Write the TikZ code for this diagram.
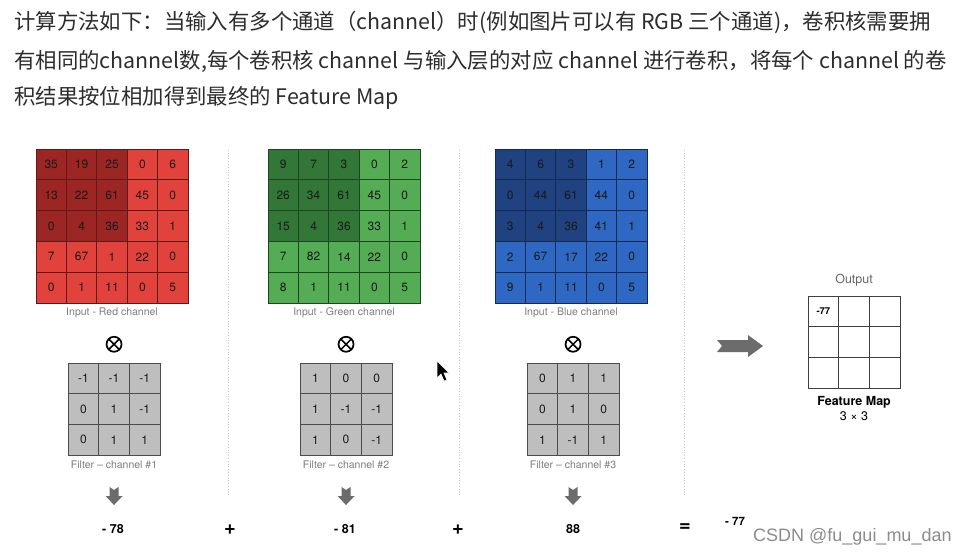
\documentclass[tikz,border=0pt]{standalone}
\usepackage{fontspec}
\setmainfont{TeX Gyre Heros}
\newfontfamily\cjk{Noto Sans CJK SC}
\newfontfamily\wmfont{Liberation Sans}
\usetikzlibrary{positioning}

\definecolor{redL}{RGB}{226,66,60}
\definecolor{redD}{RGB}{155,38,36}
\definecolor{redG}{RGB}{95,25,25}
\definecolor{greenL}{RGB}{84,172,84}
\definecolor{greenD}{RGB}{50,118,56}
\definecolor{greenG}{RGB}{30,70,35}
\definecolor{blueL}{RGB}{46,104,194}
\definecolor{blueD}{RGB}{32,66,128}
\definecolor{blueG}{RGB}{20,40,80}
\definecolor{filterGray}{RGB}{190,190,190}
\definecolor{arrowGray}{RGB}{108,108,108}
\definecolor{textGray}{RGB}{45,45,45}
\definecolor{labelGray}{RGB}{125,125,125}

\tikzset{
  cell/.style={draw, minimum width=30.4pt, minimum height=30.8pt, inner sep=0pt,
    line width=.8pt, font=\fontsize{12}{12}\selectfont, text=black!90},
  fcell/.style={cell, fill=filterGray, draw=black!70, minimum width=30.7pt, minimum height=30.7pt},
  ocell/.style={cell, fill=white, draw=black!75, line width=1pt, minimum width=30.7pt, minimum height=30.7pt},
  caption/.style={text=labelGray, font=\fontsize{10.5}{10.5}\selectfont, inner sep=1pt},
  otimes/.style={circle, draw, line width=1.7pt, minimum size=15pt, inner sep=0pt,
    path picture={\draw[line width=1.5pt]
      (path picture bounding box.north west) -- (path picture bounding box.south east)
      (path picture bounding box.north east) -- (path picture bounding box.south west);}},
  result/.style={font=\bfseries\fontsize{12.5}{12.5}\selectfont},
  opsign/.style={font=\bfseries\fontsize{20}{20}\selectfont, inner sep=0pt},
  sep/.style={draw=black!22, dotted, line width=.8pt},
  blockarrow/.style={fill=arrowGray},
  intro/.style={anchor=west, inner sep=0pt, text=textGray, font=\cjk\fontsize{21.4}{21.4}\selectfont},
}

\begin{document}
\begin{tikzpicture}[x=1pt,y=-1pt]
  \useasboundingbox[fill=white] (0,0) rectangle (965,557);

  \node[intro] (intro1) at (14,22) {计算方法如下：当输入有多个通道（channel）时(例如图片可以有 RGB 三个通道)，卷积核需要拥};
  \node[intro] (intro2) at (14,61) {有相同的channel数,每个卷积核 channel 与输入层的对应 channel 进行卷积，将每个 channel 的卷};
  \node[intro] (intro3) at (14,98) {积结果按位相加得到最终的 Feature Map};

  % dotted separators
  \foreach \xs in {228,459,684}
    \draw[sep] (\xs,150) -- (\xs,495);

  % input channels, top left 3x3 darker
  \foreach \ch/\xo/\Name/\vals in {%
      red/36/Red/{{35,19,25,0,6},{13,22,61,45,0},{0,4,36,33,1},{7,67,1,22,0},{0,1,11,0,5}},
      green/268/Green/{{9,7,3,0,2},{26,34,61,45,0},{15,4,36,33,1},{7,82,14,22,0},{8,1,11,0,5}},
      blue/495/Blue/{{4,6,3,1,2},{0,44,61,44,0},{3,4,36,41,1},{2,67,17,22,0},{9,1,11,0,5}}}{%
    \foreach \row [count=\r] in \vals {%
      \foreach \v [count=\c] in \row {%
        \edef\shade{\ifnum\r<4 \ifnum\c<4 D\else L\fi\else L\fi}
        \node[cell, fill=\ch\shade, draw=\ch G] (\ch-\r-\c)
          at ({\xo+15.2+30.4*(\c-1)},{149+15.4+30.8*(\r-1)}) {\v};
      }
    }
    \node[caption, below=3pt of \ch-5-3] (\ch-lab) {Input - \Name\ channel};
  }

  % filters
  \foreach \k/\xo/\vals in {%
      1/68/{{-1,-1,-1},{0,1,-1},{0,1,1}},
      2/300/{{1,0,0},{1,-1,-1},{1,0,-1}},
      3/527/{{0,1,1},{0,1,0},{1,-1,1}}}{%
    \foreach \row [count=\r] in \vals {%
      \foreach \v [count=\c] in \row {%
        \node[fcell] (f\k-\r-\c) at ({\xo+15.35+30.7*(\c-1)},{363+15.35+30.7*(\r-1)}) {\v};
      }
    }
    \node[otimes, above=10pt of f\k-1-2] (ox\k) {};
    \node[caption, below=4pt of f\k-3-2] (flab\k) {Filter -- channel \#\k};
    \coordinate (darr\k) at (f\k-3-2 |- 0,496);
    \fill[blockarrow] (darr\k) ++(-4.5,-9) -- ++(4.5,3) -- ++(4.5,-3) -- ++(0,9)
      -- ++(4,0) -- ++(-8.5,9) -- ++(-8.5,-9) -- ++(4,0) -- cycle;
  }

  % sums
  \node[result] (res1) at (113,529) {- 78};
  \node[opsign] (plus1) at (230,530) {+};
  \node[result] (res2) at (345,529) {- 81};
  \node[opsign] (plus2) at (458,530) {+};
  \node[result] (res3) at (573,529) {88};
  \node[opsign] (eq) at (685,528) {=};
  \node[result, font=\bfseries\fontsize{11.5}{11.5}\selectfont] (total) at (735,521) {- 77};

  % output feature map
  \foreach \r in {1,2,3}
    \foreach \c in {1,2,3}
      \node[ocell] (out-\r-\c) at ({808+15.35+30.7*(\c-1)},{296+15.35+30.7*(\r-1)}) {};
  \node[font=\bfseries\fontsize{9.5}{9.5}\selectfont] at (out-1-1) {-77};
  \node[text=black!60, font=\fontsize{12.5}{12.5}\selectfont, inner sep=1pt, above=8pt of out-1-2] (outlab) {Output};
  \node[align=center, inner sep=1pt, font=\fontsize{12.5}{15}\selectfont, below=7pt of out-3-2] (fm)
    {\textbf{Feature Map}\\3 × 3};

  \coordinate (rarr) at (717,346);
  \fill[blockarrow] (rarr) ++(0,-6) -- ++(31,0) -- ++(0,-5) -- ++(15,11) -- ++(-15,11)
    -- ++(0,-5) -- ++(-31,0) -- ++(5,-6) -- cycle;

  % mouse pointer
  \filldraw[fill=black, draw=white, line width=.6pt] (437,361) -- ++(0,17) -- ++(4,-4)
    -- ++(3,7) -- ++(3,-1) -- ++(-3,-7) -- ++(5,0) -- cycle;

  \node[anchor=west, inner sep=0pt, text=black!45, font=\wmfont\fontsize{18}{18}\selectfont] (wm) at (753,537) {CSDN @fu\_gui\_mu\_dan};
\end{tikzpicture}
\end{document}
